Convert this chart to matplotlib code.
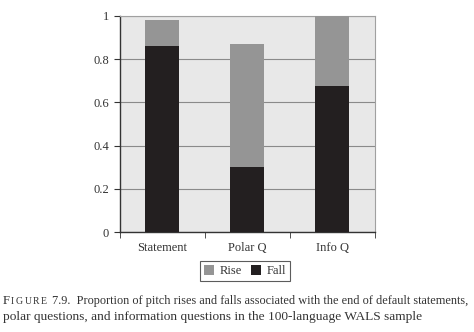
import numpy as np
import matplotlib.pyplot as plt

categories = ['Statement', 'Polar Q', 'Info Q']
fall = [0.86, 0.30, 0.675]
rise = [0.12, 0.57, 0.325]
yticks = [0, 0.2, 0.4, 0.6, 0.8, 1]
ytick_labels = ['0', '0.2', '0.4', '0.6', '0.8', '1']

plt.rcParams['font.family'] = ['Liberation Serif', 'DejaVu Serif']

fig = plt.figure(figsize=(4.74, 3.32), dpi=100)
ax = fig.add_axes([0.253, 0.301, 0.538, 0.651])
ax.set_facecolor('#e8e8e8')

x = np.arange(len(categories))
ax.bar(x, fall, width=0.4, color='#231f20', label='Fall', zorder=3)
ax.bar(x, rise, width=0.4, bottom=fall, color='#959595', label='Rise', zorder=3)

ax.set_xlim(-0.5, 2.5)
ax.set_ylim(0, 1)
ax.set_yticks(yticks)
ax.set_yticklabels(ytick_labels, fontsize=9, color='#333333')
ax.yaxis.grid(True, color='#8a8a8a', linewidth=0.8, zorder=1)

# categories labelled at bar centres, ticks at the boundaries
ax.set_xticks(x)
ax.set_xticklabels(categories, fontsize=9, color='#333333')
ax.tick_params(axis='x', length=0, pad=7)
ax.set_xticks([-0.5, 0.5, 1.5, 2.5], minor=True)
ax.tick_params(axis='x', which='minor', length=4, color='#333333', direction='out')
ax.tick_params(axis='y', length=4, color='#333333', pad=4)

for side in ['top', 'right']:
    ax.spines[side].set_color('#a0a0a0')
    ax.spines[side].set_linewidth(0.8)
for side in ['left', 'bottom']:
    ax.spines[side].set_color('#333333')
    ax.spines[side].set_linewidth(1.0)

handles, labels = ax.get_legend_handles_labels()
leg = fig.legend(handles[::-1], labels[::-1], loc='center', bbox_to_anchor=(0.517, 0.183),
                 ncol=2, fontsize=9, frameon=True, fancybox=False, handlelength=0.8,
                 handleheight=0.8, handletextpad=0.4, columnspacing=0.8,
                 borderpad=0.3, edgecolor='#333333')
leg.get_frame().set_linewidth(0.8)
for t in leg.get_texts():
    t.set_color('#333333')

# caption with letterspaced small-caps "Figure", pieces placed one after another
renderer = fig.canvas.get_renderer()
W = fig.bbox.width
pieces = [('F', 9.2, 1.2)] + [(c, 7.0, 1.6) for c in 'IGURE'] + \
    [(' 7.9.  Proportion of pitch rises and falls associated with the end of default statements,', 8.85, 0)]
xpos = 0.006
for s, size, gap in pieces:
    t = fig.text(xpos, 0.083, s, fontsize=size, color='#333333')
    bb = t.get_window_extent(renderer)
    xpos += (bb.width + gap) / W
fig.text(0.006, 0.035, 'polar questions, and information questions in the 100-language WALS sample',
         fontsize=9.6, color='#333333')

fig.savefig('out.png', dpi=100)
